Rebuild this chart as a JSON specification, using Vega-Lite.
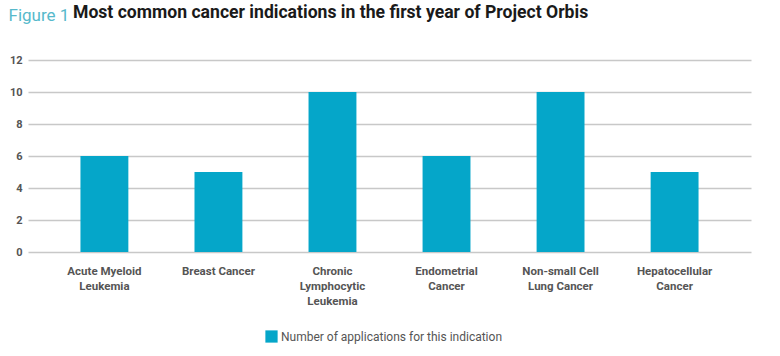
{
  "$schema": "https://vega.github.io/schema/vega-lite/v6.json",
  "autosize": {"type": "none"},
  "width": 723,
  "height": 192,
  "padding": {"left": 28, "top": 60, "right": 29, "bottom": 104},
  "background": "white",
  "title": {
    "text": "Most common cancer indications in the first year of Project Orbis",
    "anchor": "start",
    "frame": "group",
    "dx": 45,
    "dy": 16,
    "font": "Roboto",
    "fontSize": 17.6,
    "fontWeight": "bold",
    "color": "#1a1a1a",
    "offset": 0
  },
  "data": {
    "values": [
      {"indication": "Acute Myeloid Leukemia", "applications": 6, "series": "Number of applications for this indication"},
      {"indication": "Breast Cancer", "applications": 5, "series": "Number of applications for this indication"},
      {"indication": "Chronic Lymphocytic Leukemia", "applications": 10, "series": "Number of applications for this indication"},
      {"indication": "Endometrial Cancer", "applications": 6, "series": "Number of applications for this indication"},
      {"indication": "Non-small Cell Lung Cancer", "applications": 10, "series": "Number of applications for this indication"},
      {"indication": "Hepatocellular Cancer", "applications": 5, "series": "Number of applications for this indication"}
    ]
  },
  "mark": {"type": "bar"},
  "encoding": {
    "x": {
      "field": "indication",
      "type": "nominal",
      "sort": null,
      "scale": {"paddingInner": 0.58, "paddingOuter": 0.46},
      "axis": {
        "title": null,
        "labelAngle": 0,
        "domain": false,
        "ticks": false,
        "labelPadding": 13,
        "labelFont": "Roboto",
        "labelFontSize": 11.5,
        "labelFontWeight": "bold",
        "labelColor": "#555555",
        "labelLineHeight": 15,
        "labelBaseline": "top",
        "labelExpr": "datum.label == 'Acute Myeloid Leukemia' ? ['Acute Myeloid', 'Leukemia'] : datum.label == 'Chronic Lymphocytic Leukemia' ? ['Chronic', 'Lymphocytic', 'Leukemia'] : datum.label == 'Endometrial Cancer' ? ['Endometrial', 'Cancer'] : datum.label == 'Non-small Cell Lung Cancer' ? ['Non-small Cell', 'Lung Cancer'] : datum.label == 'Hepatocellular Cancer' ? ['Hepatocellular', 'Cancer'] : datum.label"
      }
    },
    "y": {
      "field": "applications",
      "type": "quantitative",
      "scale": {"domain": [0, 12]},
      "axis": {
        "values": [0, 2, 4, 6, 8, 10, 12],
        "title": "Figure 1",
        "titleAngle": 0,
        "titleAlign": "left",
        "titleBaseline": "alphabetic",
        "titleX": -20,
        "titleY": -40,
        "titleFont": "Roboto",
        "titleFontSize": 17,
        "titleFontWeight": "normal",
        "titleColor": "#56b9cb",
        "domain": false,
        "ticks": false,
        "grid": true,
        "gridColor": "#c8c8c8",
        "gridWidth": 1.5,
        "labelPadding": 6,
        "labelFont": "Roboto",
        "labelFontSize": 11,
        "labelFontWeight": "bold",
        "labelColor": "#555555"
      }
    },
    "color": {
      "field": "series",
      "type": "nominal",
      "scale": {"range": ["#05a6c9"]},
      "legend": {
        "title": null,
        "orient": "none",
        "legendX": 237,
        "legendY": 270,
        "symbolType": "square",
        "symbolSize": 150,
        "symbolStrokeWidth": 0,
        "labelFont": "Roboto",
        "labelFontSize": 12,
        "labelColor": "#555555",
        "labelOffset": 3,
        "labelLimit": 0
      }
    }
  },
  "config": {"view": {"stroke": null}}
}
